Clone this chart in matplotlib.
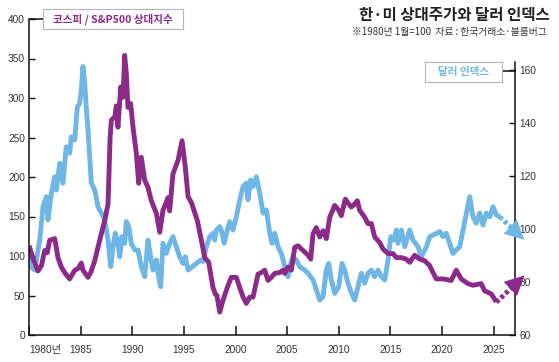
import matplotlib
matplotlib.use('Agg')
import matplotlib.pyplot as plt
from matplotlib.patches import Rectangle
from matplotlib.lines import Line2D

plt.rcParams['font.family'] = ['Liberation Sans', 'Noto Sans CJK KR']

# ---------------- data ----------------
kospi_years = [1980.0, 1980.4, 1980.86, 1981.2, 1981.51, 1981.75, 1982.0, 1982.48, 1982.8, 1983.12,
               1983.5, 1983.93, 1984.42, 1984.75, 1985.06, 1985.22, 1985.71, 1986.0, 1986.36, 1986.84,
               1987.33, 1987.65, 1987.85, 1987.97, 1988.3, 1988.45, 1988.61, 1988.88, 1989.1, 1989.26,
               1989.42, 1989.58, 1989.84, 1990.07, 1990.39, 1990.62, 1990.87, 1991.2, 1991.52, 1991.84,
               1992.33, 1992.66, 1992.97, 1993.2, 1993.46, 1993.62, 1993.94, 1994.43, 1994.82, 1995.14,
               1995.4, 1995.72, 1996.05, 1996.3, 1996.69, 1997.02, 1997.4, 1997.82, 1998.04, 1998.2,
               1998.47, 1998.79, 1999.2, 1999.59, 2000.08, 2000.41, 2000.73, 2001.05, 2001.38, 2001.7,
               2002.18, 2002.5, 2002.83, 2003.15, 2003.47, 2003.8, 2004.28, 2004.6, 2004.77, 2005.09,
               2005.41, 2005.74, 2006.06, 2006.54, 2007.03, 2007.29, 2007.51, 2007.83, 2008.16, 2008.48,
               2008.8, 2009.13, 2009.61, 2010.0, 2010.25, 2010.64, 2010.9, 2011.22, 2011.55, 2011.8,
               2012.03, 2012.52, 2012.84, 2013.16, 2013.49, 2013.97, 2014.29, 2014.78, 2015.26, 2015.58,
               2016.07, 2016.55, 2016.88, 2017.36, 2017.85, 2018.33, 2018.8, 2019.1, 2019.45, 2020.1,
               2020.9, 2021.39, 2021.87, 2022.52, 2023.0, 2023.8, 2024.13, 2024.78, 2025.27]
kospi_vals = [113, 96, 81, 88, 107, 104, 120, 122, 98, 86,
              78, 71, 82, 84, 91, 82, 73, 80, 94, 120,
              145, 166, 250, 272, 276, 290, 263, 314, 301, 354,
              331, 288, 293, 263, 230, 192, 225, 196, 187, 170,
              154, 130, 158, 165, 174, 157, 204, 221, 246, 212,
              175, 168, 155, 145, 120, 98, 92, 60, 52, 50,
              29, 44, 60, 73, 73, 60, 48, 40, 48, 48,
              77, 79, 82, 69, 73, 78, 79, 82, 78, 86,
              82, 111, 113, 107, 101, 96, 128, 136, 124, 132,
              122, 149, 164, 158, 151, 172, 167, 162, 166, 170,
              158, 149, 141, 141, 124, 117, 109, 103, 103, 98,
              98, 96, 92, 101, 96, 94, 88, 80, 71, 71,
              69, 82, 71, 65, 63, 65, 56, 52, 42]

dollar_years = [1980.0, 1980.1, 1980.54, 1981.03, 1981.35, 1981.67, 1981.83, 1982.15, 1982.48, 1982.64,
                1982.97, 1983.28, 1983.6, 1983.93, 1984.09, 1984.42, 1984.67, 1984.9, 1985.06, 1985.22,
                1985.39, 1985.54, 1985.71, 1985.87, 1986.03, 1986.36, 1986.68, 1987.0, 1987.33, 1987.65,
                1987.91, 1988.13, 1988.35, 1988.55, 1988.78, 1989.0, 1989.26, 1989.42, 1989.65, 1989.9,
                1990.23, 1990.55, 1990.87, 1991.2, 1991.52, 1991.78, 1992.0, 1992.33, 1992.49, 1992.75,
                1992.97, 1993.3, 1993.62, 1993.94, 1994.26, 1994.59, 1994.91, 1995.14, 1995.4, 1995.72,
                1996.2, 1996.63, 1996.85, 1997.17, 1997.5, 1997.82, 1997.98, 1998.14, 1998.47, 1998.62,
                1998.89, 1999.2, 1999.44, 1999.76, 2000.08, 2000.41, 2000.73, 2001.05, 2001.21, 2001.47,
                2001.7, 2002.02, 2002.35, 2002.67, 2002.99, 2003.31, 2003.54, 2003.8, 2004.12, 2004.44,
                2004.77, 2005.09, 2005.25, 2005.57, 2005.89, 2006.22, 2006.7, 2007.03, 2007.51, 2007.83,
                2008.16, 2008.48, 2008.8, 2009.03, 2009.28, 2009.61, 2010.0, 2010.32, 2010.58, 2010.9,
                2011.22, 2011.55, 2011.87, 2012.19, 2012.52, 2012.84, 2013.16, 2013.49, 2013.81, 2014.13,
                2014.46, 2014.78, 2015.04, 2015.36, 2015.58, 2015.74, 2016.07, 2016.4, 2016.88, 2017.2,
                2017.69, 2018.0, 2018.5, 2018.82, 2019.14, 2019.79, 2020.1, 2020.42, 2020.75, 2021.07,
                2021.4, 2021.72, 2022.05, 2022.37, 2022.69, 2023.01, 2023.33, 2023.66, 2023.98, 2024.3,
                2024.63, 2024.95, 2025.27, 2025.6]
dollar_vals = [90, 86, 84.5, 95.8, 108.4, 112.2, 103.4, 113.5, 119.7, 114.7,
               124.8, 117.3, 131, 128.6, 134.8, 133.6, 146, 147.4, 152.5, 161.3,
               155, 146, 137.4, 127.3, 117.3, 114.7, 108.4, 106, 103.4, 95.8,
               85.8, 93.3, 98.4, 95.8, 89.5, 97.1, 94.6, 102.8, 100.9, 94.6,
               92.1, 92.1, 85.8, 82, 95.8, 89.5, 84.5, 88.3, 83.3, 78.2,
               94.6, 90.8, 94.6, 97.1, 93.3, 89.5, 87, 89.5, 84.5, 85.5,
               87, 88.3, 87.7, 93.3, 97.1, 98.4, 95.8, 99.6, 100.9, 99.6,
               94.6, 99.6, 102.8, 99.6, 104.6, 111, 116, 117.3, 111, 118.5,
               116, 119.7, 113.5, 106, 107.2, 98.4, 94.6, 98.4, 93.3, 90.8,
               85.8, 82, 85.8, 89.5, 88.3, 85.8, 84.5, 83.3, 80.8, 77,
               73.2, 74.5, 84.5, 87, 80.8, 75.7, 78.2, 87, 84.5, 79.5,
               76, 73.2, 78.2, 83.3, 79.5, 83.3, 84.5, 82, 84.5, 82,
               80.8, 88.3, 97.1, 95.8, 99.6, 94.6, 99.6, 93.3, 99.6, 95.8,
               93.3, 89.5, 93.3, 97.1, 97.7, 99, 97.1, 98.4, 94.6, 90.8,
               92.1, 93.3, 99.6, 106, 112.2, 104.6, 102.2, 106, 101.5, 106,
               104.6, 108.4, 105.3, 104.6]

# projection arrows (start, tip)
kospi_proj_years = [2025.27, 2028.0]
kospi_proj_vals = [41.5, 75.3]
dollar_proj_years = [2025.6, 2028.0]
dollar_proj_vals = [104.6, 95.9]

x_ticks = [1980, 1985, 1990, 1995, 2000, 2005, 2010, 2015, 2020, 2025]
x_labels = ['1980년', '1985', '1990', '1995', '2000', '2005', '2010', '2015', '2020', '2025']
left_ticks = [0, 50, 100, 150, 200, 250, 300, 350, 400]
right_ticks = [60, 80, 100, 120, 140, 160]

title = '한·미 상대주가와 달러 인덱스'
subtitle = '※1980년 1월=100  자료 : 한국거래소·블룸버그'
label_kospi = '코스피 / S&P500 상대지수'
label_dollar = '달러 인덱스'

PURPLE = '#8C2A8A'
BLUE = '#6DB6E6'
TXT = '#333333'

# ---------------- layout ----------------
W, H = 559, 362
fig = plt.figure(figsize=(W / 100, H / 100), dpi=100)
fig.patch.set_facecolor('white')


def fx(px):
    return px / W


def fy(py):
    return 1 - py / H


ax = fig.add_axes([fx(29.1), fy(335), fx(515.3) - fx(29.1), fy(19) - fy(335)])
ax2 = ax.twinx()
ax.set_zorder(ax2.get_zorder() + 1)
ax.patch.set_visible(False)

ax.set_xlim(1980, 2027.11)
ax.set_ylim(0, 400)
ax2.set_ylim(60, 179.25)

lw = 3.5
ax2.plot(dollar_years, dollar_vals, color=BLUE, lw=lw, solid_joinstyle='round', solid_capstyle='butt')
ax.plot(kospi_years, kospi_vals, color=PURPLE, lw=lw, solid_joinstyle='round', solid_capstyle='butt')


def proj(axis, xs, ys, color):
    # dotted part up to the arrow head base
    fr = 0.6
    xe = xs[0] + fr * (xs[1] - xs[0])
    ye = ys[0] + fr * (ys[1] - ys[0])
    axis.plot([xs[0], xe], [ys[0], ye], color=color, lw=lw, ls=(0, (0.75, 0.55)),
              dash_capstyle='butt', clip_on=False)
    xh = xs[0] + 0.4 * (xs[1] - xs[0])
    yh = ys[0] + 0.4 * (ys[1] - ys[0])
    an = axis.annotate('', xy=(xs[1], ys[1]), xytext=(xh, yh),
                       arrowprops=dict(arrowstyle='-|>,head_length=1.4,head_width=0.7',
                                       fc=color, ec='none', lw=0, shrinkA=0, shrinkB=0,
                                       mutation_scale=10))
    an.set_annotation_clip(False)


proj(ax2, dollar_proj_years, dollar_proj_vals, BLUE)
proj(ax, kospi_proj_years, kospi_proj_vals, PURPLE)

# spines
for s in ['top', 'right']:
    ax.spines[s].set_visible(False)
for s in ['top', 'left', 'bottom']:
    ax2.spines[s].set_visible(False)
ax.spines['left'].set_bounds(0, 400)
ax2.spines['right'].set_bounds(60, 163)
for sp in [ax.spines['left'], ax.spines['bottom'], ax2.spines['right']]:
    sp.set_linewidth(1.1)
    sp.set_color('#111111')

ax.set_xticks(x_ticks)
ax.set_xticklabels(x_labels)
ax.set_yticks(left_ticks)
ax2.set_yticks(right_ticks)
ax.tick_params(axis='x', direction='in', length=6.5, width=1.1, pad=7, labelsize=7.3,
               labelcolor=TXT, color='#111111')
ax.tick_params(axis='y', direction='in', length=4, width=1.0, pad=3, labelsize=7.3,
               labelcolor=TXT, color='#111111')
ax2.tick_params(axis='y', direction='in', length=4, width=1.0, pad=3, labelsize=7.3,
                labelcolor=TXT, color='#111111')
ax.get_xticklabels()[0].set_horizontalalignment('left')
ax.get_xticklabels()[0].set_x(1979.9)

# titles
fig.text(fx(550), fy(15), title, ha='right', va='center', fontsize=11.2, fontweight='bold',
         color='#222222', family=['Noto Sans CJK KR'])
fig.text(fx(547), fy(32), subtitle, ha='right', va='center', fontsize=7.0,
         color=TXT, family=['Noto Sans CJK KR', 'DejaVu Sans'])


# legend boxes
def box(x0, y0, x1, y1, text, color):
    fig.patches.append(Rectangle((fx(x0 + 1.2), fy(y1 + 1.2)), fx(x1) - fx(x0), fy(y0) - fy(y1),
                                 transform=fig.transFigure, facecolor='#d8d8d8', edgecolor='none',
                                 zorder=5))
    fig.patches.append(Rectangle((fx(x0), fy(y1)), fx(x1) - fx(x0), fy(y0) - fy(y1),
                                 transform=fig.transFigure, facecolor='white', edgecolor='#b5b5b5',
                                 lw=0.8, zorder=6))
    fig.text(fx((x0 + x1) / 2), fy((y0 + y1) / 2), text, ha='center', va='center',
             fontsize=7.6, fontweight='bold', color=color, zorder=7,
             family=['Noto Sans CJK KR', 'DejaVu Sans'])


box(43, 9, 183, 29, label_kospi, PURPLE)
box(425, 62, 502, 82, label_dollar, BLUE)

# connectors from axes to legend boxes
fig.lines.append(Line2D([fx(29.5), fx(43)], [fy(19.3), fy(19.3)], transform=fig.transFigure,
                        color='#111111', lw=1.1))
fig.lines.append(Line2D([fx(502), fx(515)], [fy(70.7), fy(70.7)], transform=fig.transFigure,
                        color='#111111', lw=1.1))

fig.savefig('out.png', dpi=100, facecolor='white')
